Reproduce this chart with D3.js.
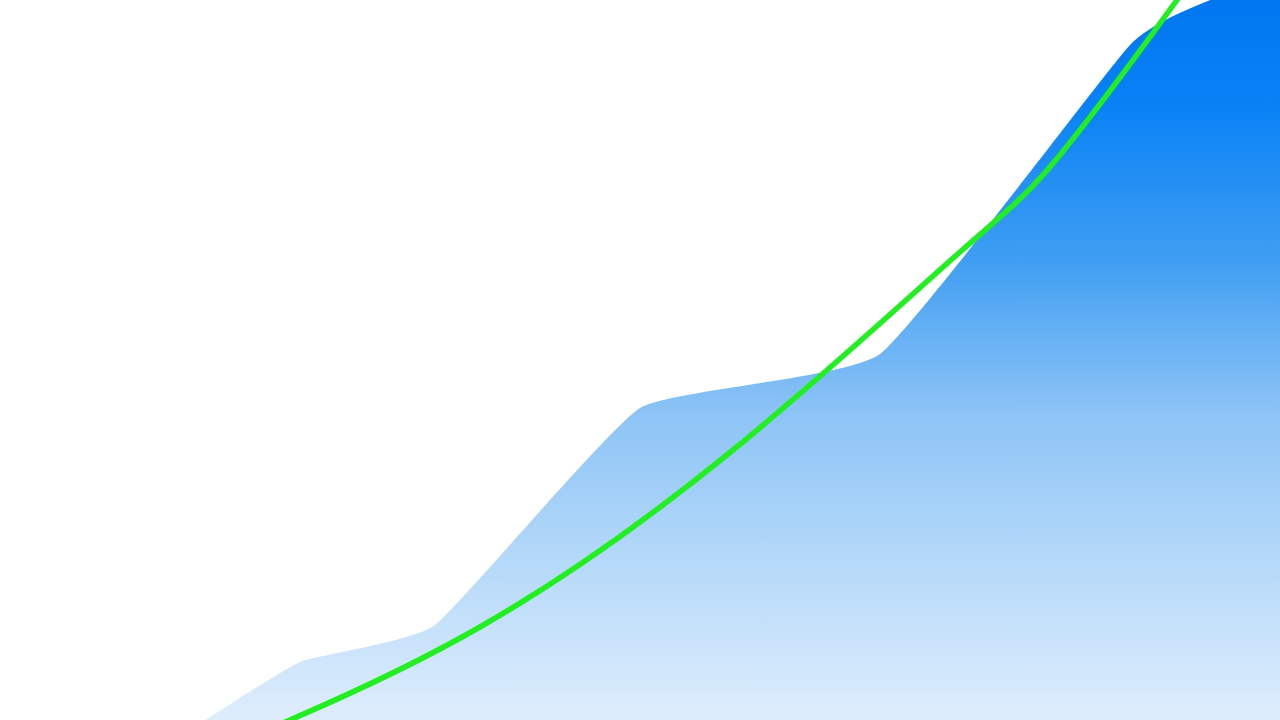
<!DOCTYPE html>
<html>
<head>
<meta charset="utf-8">
<script src="https://cdn.jsdelivr.net/npm/d3@7"></script>
<style>
html,body{margin:0;padding:0;background:#fff;overflow:hidden;}
svg{display:block;}
</style>
</head>
<body>
<svg id="chart" width="1280" height="720"></svg>
<script>
// Area series (x position units, value units)
const areaX = [19, 30, 43.5, 64, 88, 113, 121.5, 130];
const areaY = [-1, 5.8, 9.5, 31.2, 36.6, 67.5, 72.2, 75];
// Trend line series
const lineX = [27, 29, 48, 73.3, 96, 106, 117.7, 119];
const lineY = [-1, 0, 9.3, 27, 46.8, 56.5, 72, 74];

const W = 1280, H = 720;
const svg = d3.select('#chart');
const x = d3.scaleLinear().domain([0, 128]).range([0, W]);
const y = d3.scaleLinear().domain([0, 72]).range([H, 0]);

const defs = svg.append('defs');
const grad = defs.append('linearGradient')
  .attr('id', 'ag').attr('gradientUnits', 'userSpaceOnUse')
  .attr('x1', 0).attr('y1', 0).attr('x2', 0).attr('y2', H);
[[0, '#0076f0'], [0.15, '#0a82f6'], [0.36, '#3f9ef2'], [0.57, '#8cc3f6'], [0.78, '#b5d9f9'], [1, '#deedfc']]
  .forEach(([o, c]) => grad.append('stop').attr('offset', o).attr('stop-color', c));

const areaData = areaX.map((v, i) => ({x: v, y: areaY[i]}));
const lineData = lineX.map((v, i) => ({x: v, y: lineY[i]}));

const area = d3.area()
  .x(d => x(d.x)).y0(y(-5)).y1(d => y(d.y))
  .curve(d3.curveCardinal.tension(0.6));
svg.append('path').datum(areaData).attr('d', area).attr('fill', 'url(#ag)');

const line = d3.line().x(d => x(d.x)).y(d => y(d.y)).curve(d3.curveNatural);
svg.append('path').datum(lineData).attr('d', line)
  .attr('fill', 'none').attr('stroke', '#22ee22').attr('stroke-width', 5.5)
  .attr('stroke-linecap', 'round');
</script>
</body>
</html>
